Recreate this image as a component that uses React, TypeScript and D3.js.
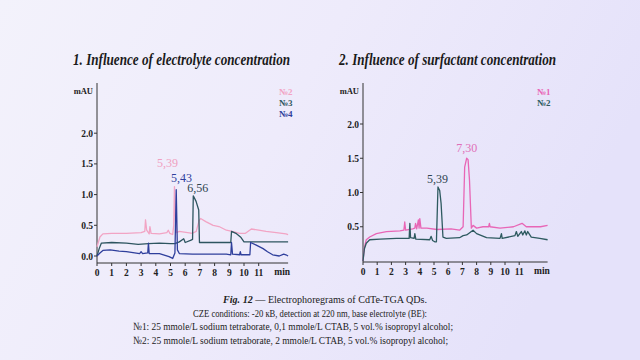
import React, { useRef, useEffect } from 'react';
import * as d3 from 'd3';

type Pt = [number, number];

const xTicks = [0, 1, 2, 3, 4, 5, 6, 7, 8, 9, 10, 11];
const yTicksLeft = [0, 0.5, 1.0, 1.5, 2.0];
const yTicksRight = [0.5, 1.0, 1.5, 2.0];

// 1. electrolyte concentration
const elNo2: Pt[] = [[0,0.15],[0.2,0.31],[0.4,0.36],[1,0.37],[2,0.37],[3,0.38],[3.25,0.4],[3.3,0.59],[3.38,0.42],[3.55,0.36],[3.6,0.48],[3.68,0.37],[4.25,0.36],[4.75,0.38],[4.85,0.42],[4.95,0.37],[5.15,0.35],[5.22,0.5],[5.27,1.13],[5.33,0.6],[5.4,0.38],[5.6,0.4],[6.5,0.37],[6.75,0.4],[6.95,0.58],[7.05,0.61],[7.4,0.56],[7.9,0.5],[8.3,0.48],[8.8,0.42],[9.2,0.4],[9.7,0.37],[10.1,0.37],[10.5,0.44],[11.0,0.42],[11.5,0.4],[12.2,0.38],[12.85,0.36],[13,0.35]];
const elNo3: Pt[] = [[0,0],[0.15,0.12],[0.3,0.21],[1,0.22],[2,0.21],[2.8,0.19],[3.5,0.2],[4.25,0.21],[5.0,0.2],[5.3,0.2],[5.6,0.23],[5.9,0.28],[6.0,0.22],[6.4,0.26],[6.5,0.27],[6.55,0.98],[6.74,0.89],[6.92,0.75],[6.97,0.22],[8,0.22],[9.1,0.22],[9.15,0.4],[9.45,0.37],[9.8,0.3],[10.0,0.23],[13,0.23]];
const elNo4: Pt[] = [[0,0],[0.2,0.05],[0.4,0.09],[0.9,0.1],[1.5,0.08],[2.0,0.07],[2.9,0.04],[3.0,0.07],[3.1,0.04],[3.45,0.05],[3.5,0.21],[3.55,0.04],[4.25,0.04],[4.9,-0.01],[5.15,-0.04],[5.3,0.05],[5.39,1.08],[5.47,0.1],[5.6,0.04],[6.5,0.03],[7.6,0.03],[8.8,0.03],[9.1,0.02],[9.15,0.22],[9.22,0.03],[9.7,0.02],[9.75,0.07],[9.8,0.02],[10.4,0.02],[10.45,0.22],[10.8,0.18],[11.3,0.12],[11.6,0.07],[11.95,0.02],[12.4,0.0],[12.7,0.03],[12.85,0.02],[13,0.0]];

// 2. surfactant concentration
const sfNo1: Pt[] = [[0,0],[0.1,0.2],[0.23,0.31],[0.47,0.35],[0.94,0.4],[1.65,0.43],[2.6,0.44],[2.88,0.45],[2.94,0.57],[3.0,0.45],[3.5,0.47],[3.65,0.48],[3.7,0.55],[3.78,0.47],[3.9,0.6],[3.95,0.48],[4.0,0.62],[4.08,0.48],[4.5,0.48],[5.2,0.46],[6.2,0.47],[6.8,0.45],[7.05,0.5],[7.16,1.37],[7.3,1.5],[7.4,1.48],[7.5,1.18],[7.63,0.48],[7.75,0.52],[8.0,0.48],[8.45,0.5],[8.85,0.5],[8.9,0.55],[8.95,0.5],[9.65,0.48],[10.6,0.5],[11.2,0.55],[11.5,0.5],[12.5,0.5],[13,0.52]];
const sfNo2: Pt[] = [[0,0],[0.1,0.18],[0.23,0.26],[0.47,0.31],[1.2,0.32],[2.35,0.33],[3.25,0.33],[3.3,0.55],[3.35,0.34],[3.6,0.33],[3.65,0.4],[3.72,0.32],[4.7,0.31],[4.8,0.36],[4.9,0.3],[5.05,0.28],[5.17,0.28],[5.28,1.08],[5.4,1.03],[5.5,0.84],[5.63,0.35],[5.87,0.33],[6.8,0.34],[7.05,0.37],[7.3,0.38],[7.75,0.45],[8.0,0.4],[8.7,0.34],[9.65,0.33],[9.75,0.4],[9.8,0.33],[10.7,0.37],[10.8,0.43],[10.9,0.36],[11.15,0.43],[11.25,0.38],[11.4,0.44],[11.5,0.38],[11.6,0.43],[11.85,0.35],[12.45,0.33],[13,0.31]];

const serif = '"Liberation Serif", "Times New Roman", serif';

interface Series { data: Pt[]; color: string; name: string; }
interface Peak { x: number; y: number; text: string; color: string; }

interface PanelProps {
  title: string;
  left: number;
  pxPerMin: number;
  zeroY: number;
  axisY: number;
  pxPerUnit: number;
  yTicks: number[];
  series: Series[];
  peaks: Peak[];
  legendX: number;
}

const Panel = ({ title, left, pxPerMin, zeroY, axisY, pxPerUnit, yTicks, series, peaks, legendX }: PanelProps) => {
  const g = useRef<SVGGElement>(null);

  useEffect(() => {
    if (!g.current) return;
    const root = d3.select(g.current);
    root.selectAll('*').remove();

    const x = d3.scaleLinear().domain([0, 13]).range([left, left + 13 * pxPerMin]);
    const y = d3.scaleLinear().domain([0, 2]).range([zeroY, zeroY - 2 * pxPerUnit]);

    root.append('text')
      .attr('x', left - 24).attr('y', 65)
      .attr('textLength', 217).attr('lengthAdjust', 'spacingAndGlyphs')
      .attr('font-family', serif).attr('font-size', 17)
      .attr('font-weight', 'bold').attr('font-style', 'italic')
      .attr('fill', '#1a1a1a')
      .text(title);

    // axes
    const ax = root.append('g').attr('stroke', '#333').attr('stroke-width', 1);
    ax.append('line').attr('x1', left).attr('x2', left).attr('y1', 83).attr('y2', axisY);
    ax.append('line').attr('x1', left).attr('x2', x(13)).attr('y1', axisY).attr('y2', axisY);

    yTicks.forEach((t) => {
      ax.append('line').attr('x1', left - 3).attr('x2', left).attr('y1', y(t)).attr('y2', y(t));
      root.append('text')
        .attr('x', left - 4).attr('y', y(t) + 3.5)
        .attr('text-anchor', 'end')
        .attr('font-family', serif).attr('font-size', 9.5).attr('font-weight', 'bold')
        .attr('fill', '#222')
        .text(d3.format('.1f')(t));
    });

    xTicks.forEach((t) => {
      ax.append('line').attr('x1', x(t)).attr('x2', x(t)).attr('y1', axisY).attr('y2', axisY + 3);
      root.append('text')
        .attr('x', x(t)).attr('y', axisY + 13)
        .attr('text-anchor', 'middle')
        .attr('font-family', serif).attr('font-size', 9.5).attr('font-weight', 'bold')
        .attr('fill', '#222')
        .text(t);
    });

    root.append('text')
      .attr('x', x(12.6)).attr('y', axisY + 12)
      .attr('text-anchor', 'middle')
      .attr('font-family', serif).attr('font-size', 9.5).attr('font-weight', 'bold')
      .attr('fill', '#222').text('min');

    root.append('text')
      .attr('x', left - 4).attr('y', 94)
      .attr('text-anchor', 'end')
      .attr('font-family', serif).attr('font-size', 8.5).attr('font-weight', 'bold')
      .attr('fill', '#222').text('mAU');

    const line = d3.line<Pt>().x((d) => x(d[0])).y((d) => y(d[1]));

    series.forEach((s, i) => {
      root.append('path')
        .attr('d', line(s.data))
        .attr('fill', 'none')
        .attr('stroke', s.color)
        .attr('stroke-width', 1.3)
        .attr('stroke-linejoin', 'round');

      root.append('text')
        .attr('x', legendX).attr('y', 95 + i * 11)
        .attr('font-family', serif).attr('font-size', 9).attr('font-weight', 'bold')
        .attr('fill', s.color).text(s.name);
    });

    peaks.forEach((p) => {
      root.append('text')
        .attr('x', x(p.x)).attr('y', y(p.y))
        .attr('text-anchor', 'middle')
        .attr('font-family', serif).attr('font-size', 12)
        .attr('fill', p.color).text(p.text);
    });
  }, [title, left, pxPerMin, zeroY, axisY, pxPerUnit, yTicks, series, peaks, legendX]);

  return <g ref={g} />;
};

const leftSeries: Series[] = [
  { data: elNo2, color: '#f2a4c4', name: '№2' },
  { data: elNo3, color: '#2e5560', name: '№3' },
  { data: elNo4, color: '#2f3f9c', name: '№4' },
];
const rightSeries: Series[] = [
  { data: sfNo1, color: '#e866b6', name: '№1' },
  { data: sfNo2, color: '#2e5a60', name: '№2' },
];
const leftPeaks: Peak[] = [
  { x: 4.8, y: 1.45, text: '5,39', color: '#f0a0c0' },
  { x: 5.75, y: 1.21, text: '5,43', color: '#2f3f9c' },
  { x: 6.85, y: 1.04, text: '6,56', color: '#2e4450' },
];
const rightPeaks: Peak[] = [
  { x: 7.3, y: 1.59, text: '7,30', color: '#e070b8' },
  { x: 5.25, y: 1.14, text: '5,39', color: '#2e4450' },
];

const captionLines = [
  'CZE conditions: -20 кB, detection at 220 nm, base electrolyte (BE):',
  '№1: 25 mmole/L sodium tetraborate, 0,1 mmole/L CTAB, 5 vol.% isopropyl alcohol;',
  '№2: 25 mmole/L sodium tetraborate, 2 mmole/L CTAB, 5 vol.% isopropyl alcohol;',
];

export default function App() {
  return (
    <div style={{ position: 'fixed', left: 0, top: 0, width: 640, height: 360 }}>
      <svg width={640} height={360} style={{ display: 'block' }}>
        <defs>
          <linearGradient id="bg" x1="0" y1="0" x2="1" y2="0.3">
            <stop offset="0" stopColor="#f3f2fb" />
            <stop offset="0.5" stopColor="#eeebfb" />
            <stop offset="1" stopColor="#e5e2fa" />
          </linearGradient>
        </defs>
        <rect width={640} height={360} fill="url(#bg)" />
        <Panel
          title="1. Influence of electrolyte concentration"
          left={97} pxPerMin={14.7} zeroY={256} axisY={263} pxPerUnit={61.4}
          yTicks={yTicksLeft} series={leftSeries} peaks={leftPeaks} legendX={279}
        />
        <Panel
          title="2. Influence of surfactant concentration"
          left={363} pxPerMin={14.2} zeroY={261} axisY={262} pxPerUnit={68.5}
          yTicks={yTicksRight} series={rightSeries} peaks={rightPeaks} legendX={537}
        />
        <text x={223} y={303} textLength={204} lengthAdjust="spacingAndGlyphs"
          fontFamily={serif} fontSize={11} fill="#222">
          <tspan fontStyle="italic" fontWeight="bold">Fig. 12</tspan>
          <tspan> — Electrophoregrams of  CdTe-TGA QDs.</tspan>
        </text>
        <text x={193} y={317} textLength={234} lengthAdjust="spacingAndGlyphs"
          fontFamily={serif} fontSize={11} fill="#222">{captionLines[0]}</text>
        <text x={133} y={330} textLength={320} lengthAdjust="spacingAndGlyphs"
          fontFamily={serif} fontSize={11} fill="#222">{captionLines[1]}</text>
        <text x={133} y={344} textLength={315} lengthAdjust="spacingAndGlyphs"
          fontFamily={serif} fontSize={11} fill="#222">{captionLines[2]}</text>
      </svg>
    </div>
  );
}
